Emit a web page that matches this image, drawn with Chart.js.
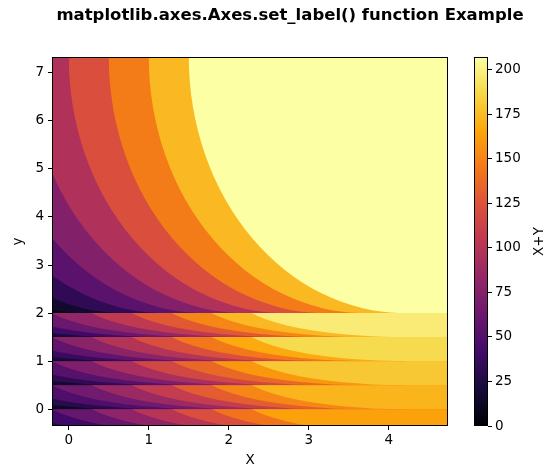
<!DOCTYPE html>
<html><head><meta charset="utf-8">
<script src="https://cdn.jsdelivr.net/npm/chart.js@4"></script>
<style>body{margin:0;background:#fff}#w{position:relative;width:560px;height:473px}canvas{position:absolute;left:0;top:0}</style>
</head><body><div id="w"><canvas id="c1" width="560" height="473"></canvas><canvas id="c2" width="560" height="473"></canvas></div>
<script>
// ---- data ----
const xTicks = [0, 1, 2, 3, 4];
const yTicks = [0, 1, 2, 3, 4, 5, 6, 7];
const cbTicks = [0, 25, 50, 75, 100, 125, 150, 175, 200];
const xRange = [-0.21, 4.74];
const yRange = [-0.35, 7.33];
const cbMax = 207;
// upper region (y from 2 to top): boundary arcs, x where each meets y=2, and their x-reach
const upperBottomX = [4.2, 3.7, 3.2, 2.7, 2.2, 1.7, 1.2, 0.7, 0.2];
const upperReach = 2.7;
const upperSplitY = 2;
const upperLevels = [1.0, 0.84, 0.71, 0.59, 0.47, 0.36, 0.26, 0.16, 0.08, 0.02];
// lower strips
const rowTops = [2, 1.5, 1, 0.5, 0];
const rowHeight = 0.5;
const rowLift = 0.35;
const rowBottomX = [4.2, 3.7, 3.2, 2.7, 2.2, 1.7, 1.2, 0.7, 0.2, -0.3];
const rowReach = 2.1;
const rowLevels = [
  [0.95, 0.84, 0.73, 0.62, 0.51, 0.40, 0.30, 0.20, 0.11, 0.04, 0.0],
  [0.91, 0.81, 0.70, 0.59, 0.48, 0.38, 0.28, 0.18, 0.10, 0.03, 0.0],
  [0.87, 0.77, 0.66, 0.56, 0.45, 0.35, 0.25, 0.16, 0.08, 0.02, 0.0],
  [0.83, 0.73, 0.63, 0.52, 0.42, 0.32, 0.23, 0.14, 0.06, 0.01, 0.0],
  [0.79, 0.69, 0.59, 0.49, 0.39, 0.29, 0.20, 0.12, 0.05, 0.01, 0.0]
];
const titleText = 'matplotlib.axes.Axes.set_label() function Example';

// inferno colormap stops
const INF = ['#000004','#160b39','#420a68','#6a176e','#932667','#bc3754','#dd513a','#f37819','#fca50a','#f6d746','#fcffa4'];
function hx(h){return [1,3,5].map(i=>parseInt(h.substr(i,2),16));}
function inferno(t){t=Math.max(0,Math.min(1,t));const p=t*10,i=Math.min(9,Math.floor(p)),f=p-i;const a=hx(INF[i]),b=hx(INF[i+1]);return 'rgb('+a.map((v,k)=>Math.round(v+(b[k]-v)*f)).join(',')+')';}

const FONT = 'DejaVu Sans';
const FS = 13.5;
Chart.defaults.font.family = FONT;
Chart.defaults.color = '#000';

const contour = {
  id: 'contour',
  beforeDatasetsDraw(chart) {
    const {ctx, chartArea: a, scales: {x, y}} = chart;
    const X = v => x.getPixelForValue(v), Y = v => y.getPixelForValue(v);
    ctx.save();
    ctx.save();
    ctx.beginPath(); ctx.rect(a.left, a.top, a.right - a.left, Y(upperSplitY) - a.top); ctx.clip();
    ctx.fillStyle = inferno(upperLevels[upperLevels.length - 1]);
    ctx.fillRect(a.left, a.top, a.right - a.left, Y(upperSplitY) - a.top);
    for (let k = upperBottomX.length - 1; k >= 0; k--) {
      const cx = X(upperBottomX[k]), cy = Y(yRange[1]);
      const rx = cx - X(upperBottomX[k] - upperReach), ry = Y(upperSplitY) - cy;
      ctx.fillStyle = inferno(upperLevels[k]);
      ctx.beginPath(); ctx.ellipse(cx, cy, rx, ry, 0, 0, Math.PI * 2); ctx.fill();
      ctx.fillRect(cx, cy, a.right - cx, ry);
    }
    ctx.restore();
    rowTops.forEach((top, r) => {
      const bot = Math.max(top - rowHeight, yRange[0]);
      const yt = Y(top), yb = Y(bot), yfull = Y(top - rowHeight), yc = Y(top + rowLift);
      ctx.save();
      ctx.beginPath(); ctx.rect(a.left, yt, a.right - a.left, yb - yt); ctx.clip();
      const lv = rowLevels[r];
      ctx.fillStyle = inferno(lv[lv.length - 1]);
      ctx.fillRect(a.left, yt, a.right - a.left, yb - yt);
      for (let k = rowBottomX.length - 1; k >= 0; k--) {
        const cx = X(rowBottomX[k]);
        const rx = cx - X(rowBottomX[k] - rowReach), ry = yfull - yc;
        ctx.fillStyle = inferno(lv[k]);
        ctx.beginPath(); ctx.ellipse(cx, yc, rx, ry, 0, 0, Math.PI * 2); ctx.fill();
        ctx.fillRect(cx, yc, a.right - cx, ry);
      }
      ctx.restore();
    });
    ctx.restore();
  },
  afterDraw(chart) {
    const {ctx, chartArea: a} = chart;
    ctx.save();
    ctx.strokeStyle = '#000'; ctx.lineWidth = 1;
    ctx.strokeRect(a.left + 0.5, a.top + 0.5, a.right - a.left - 1, a.bottom - a.top - 1);
    ctx.fillStyle = '#000';
    ctx.font = 'bold 16.5px ' + FONT; ctx.textAlign = 'center'; ctx.textBaseline = 'middle';
    ctx.fillText(titleText, 290, 16);
    ctx.restore();
  }
};

new Chart(document.getElementById('c1'), {
  type: 'scatter',
  data: { datasets: [{ data: [], showLine: false }] },
  options: {
    responsive: false, animation: false, devicePixelRatio: 1,
    layout: { padding: { left: 0, right: 112, top: 57, bottom: 0 } },
    plugins: { legend: { display: false }, tooltip: { enabled: false } },
    scales: {
      x: {
        type: 'linear', min: xRange[0], max: xRange[1],
        afterBuildTicks: s => { s.ticks = xTicks.map(v => ({ value: v })); },
        afterFit: s => { s.height = 47; },
        grid: { drawOnChartArea: false, color: '#000', tickLength: 4, drawTicks: true },
        border: { display: false },
        ticks: { font: { size: FS }, padding: 2, maxRotation: 0, callback: v => String(v) },
        title: { display: true, text: 'X', font: { size: FS }, padding: { top: 0 } }
      },
      y: {
        type: 'linear', min: yRange[0], max: yRange[1],
        afterBuildTicks: s => { s.ticks = yTicks.map(v => ({ value: v })); },
        afterFit: s => { s.width = 52; },
        grid: { drawOnChartArea: false, color: '#000', tickLength: 4 },
        border: { display: false },
        ticks: { font: { size: FS }, padding: 4, callback: v => String(v) },
        title: { display: true, text: 'y', font: { size: FS }, padding: { bottom: 0, top: 10 } }
      }
    }
  },
  plugins: [contour]
});

const cbar = {
  id: 'cbar',
  beforeDraw(chart) {
    const {ctx, chartArea: a, scales: {y}} = chart;
    const g = ctx.createLinearGradient(0, y.getPixelForValue(0), 0, y.getPixelForValue(cbMax));
    for (let i = 0; i <= 20; i++) g.addColorStop(i / 20, inferno(i / 20));
    ctx.save();
    ctx.fillStyle = g; ctx.fillRect(a.left, a.top, a.right - a.left, a.bottom - a.top);
    ctx.strokeStyle = '#000'; ctx.lineWidth = 1;
    ctx.strokeRect(a.left + 0.5, a.top + 0.5, a.right - a.left - 1, a.bottom - a.top - 1);
    ctx.translate(539, (a.top + a.bottom) / 2); ctx.rotate(-Math.PI / 2);
    ctx.fillStyle = '#000'; ctx.font = FS + 'px ' + FONT; ctx.textAlign = 'center'; ctx.textBaseline = 'middle';
    ctx.fillText('X+Y', 0, 0);
    ctx.restore();
  }
};
new Chart(document.getElementById('c2'), {
  type: 'scatter',
  data: { datasets: [{ data: [] }] },
  options: {
    responsive: false, animation: false, devicePixelRatio: 1,
    layout: { padding: { left: 474, right: 32, top: 57, bottom: 47 } },
    plugins: { legend: { display: false }, tooltip: { enabled: false } },
    scales: {
      x: { display: false, min: 0, max: 1 },
      y: {
        position: 'right', min: 0, max: cbMax,
        afterBuildTicks: s => { s.ticks = cbTicks.map(v => ({ value: v })); },
        afterFit: s => { s.width = 40; },
        grid: { drawOnChartArea: false, color: '#000', tickLength: 4 },
        border: { display: false },
        ticks: { font: { size: FS }, padding: 3, callback: v => String(v) }
      }
    }
  },
  plugins: [cbar]
});
</script></body></html>
